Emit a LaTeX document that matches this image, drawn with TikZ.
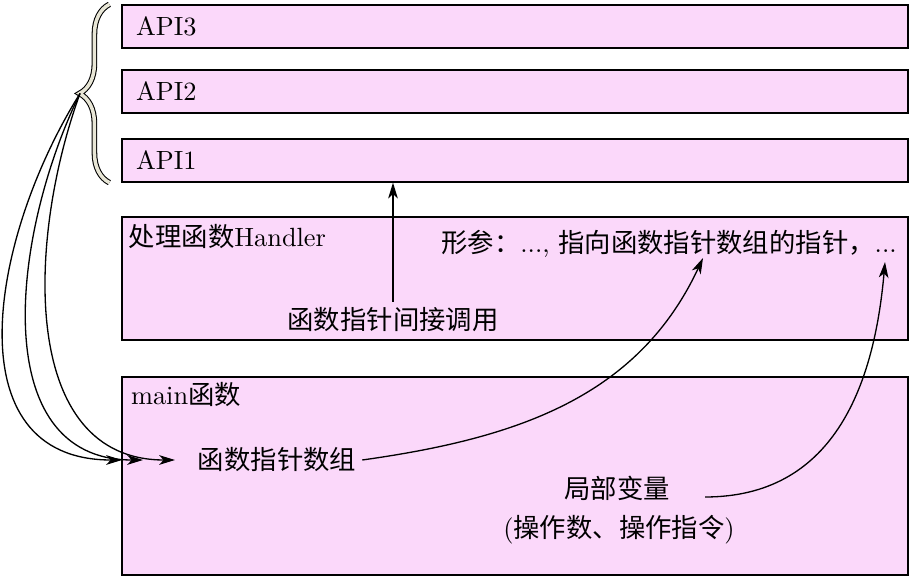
\documentclass[tikz,border=0pt]{standalone}
\usepackage{fontspec}
\setmainfont{lmroman10-regular.otf}[BoldFont=lmroman10-bold.otf]
\usetikzlibrary{positioning,arrows.meta,calc,decorations.pathreplacing}
\newfontfamily\cjk{Noto Sans CJK SC}
\definecolor{BoxPink}{RGB}{251,216,250}
\definecolor{BraceFill}{RGB}{232,230,214}

\begin{document}
\begin{tikzpicture}[x=0.02cm, y=-0.02cm, font=\fontsize{15pt}{18pt}\selectfont]
\tikzset{
  api/.style={draw, fill=BoxPink, line width=0.75pt, minimum width=15.72cm, minimum height=0.86cm, text width=15.16cm, align=left, inner xsep=0.28cm},
  panel/.style={draw, fill=BoxPink, line width=0.75pt, minimum width=15.72cm},
  arr/.style={-{Stealth[length=9pt, width=5.5pt, inset=2.5pt]}, line width=0.75pt}
}
  \useasboundingbox (0,0) rectangle (912,580);

  \node[api] (api3) at (515,26.5) {API3};
  \node[api] (api2) at (515,91.5) {API2};
  \node[api] (api1) at (515,160.5) {API1};

  \node[panel, minimum height=2.46cm] (handler) at (515,278.5) {};
  \node[panel, minimum height=3.96cm] (mainbox) at (515,476) {};

  \draw[decorate, decoration={brace, amplitude=0.6cm}, double=BraceFill, double distance=2pt, line width=0.6pt]
    ($(api1.south west)+(-12,0)$) -- ($(api3.north west)+(-12,0)$);
  \coordinate (bt) at (80,93.5);

  \node (hname) at (227.5,237) {{\cjk 处理函数}Handler};
  \node (param) at (669,244) {{\cjk 形参：}..., {\cjk 指向函数指针数组的指针，}...};
  \node (call) at (393,320) {\cjk 函数指针间接调用};
  \draw[arr] (call.north) -- (call.north |- api1.south);

  \node (mname) at (186,395) {main{\cjk 函数}};
  \node (ptrs) at (277,460) {\cjk 函数指针数组};
  \node (local) at (617,488) {\cjk 局部变量};
  \node (ops) at (619,530) {({\cjk 操作数、操作指令})};

  % arrows into the array
  \coordinate (e1) at (122,460);
  \coordinate (e2) at (143,460);
  \coordinate (e3) at (175,460);
  \draw[arr] (bt) to[out=238, in=180, looseness=1.18] (e1);
  \draw[arr] (bt) to[out=244, in=180, looseness=1.08] (e2);
  \draw[arr] (bt) to[out=250, in=180, looseness=1.05] (e3);

  % arrows up to the handler's arguments
  \coordinate (ptrarg) at (703,258);
  \coordinate (dots) at (885,262);
  \coordinate (lvstart) at (705,497);
  \draw[arr] (ptrs.east) to[out=8, in=245] (ptrarg);
  \draw[arr] (lvstart) to[out=0, in=265, looseness=1.1] (dots);
\end{tikzpicture}
\end{document}
